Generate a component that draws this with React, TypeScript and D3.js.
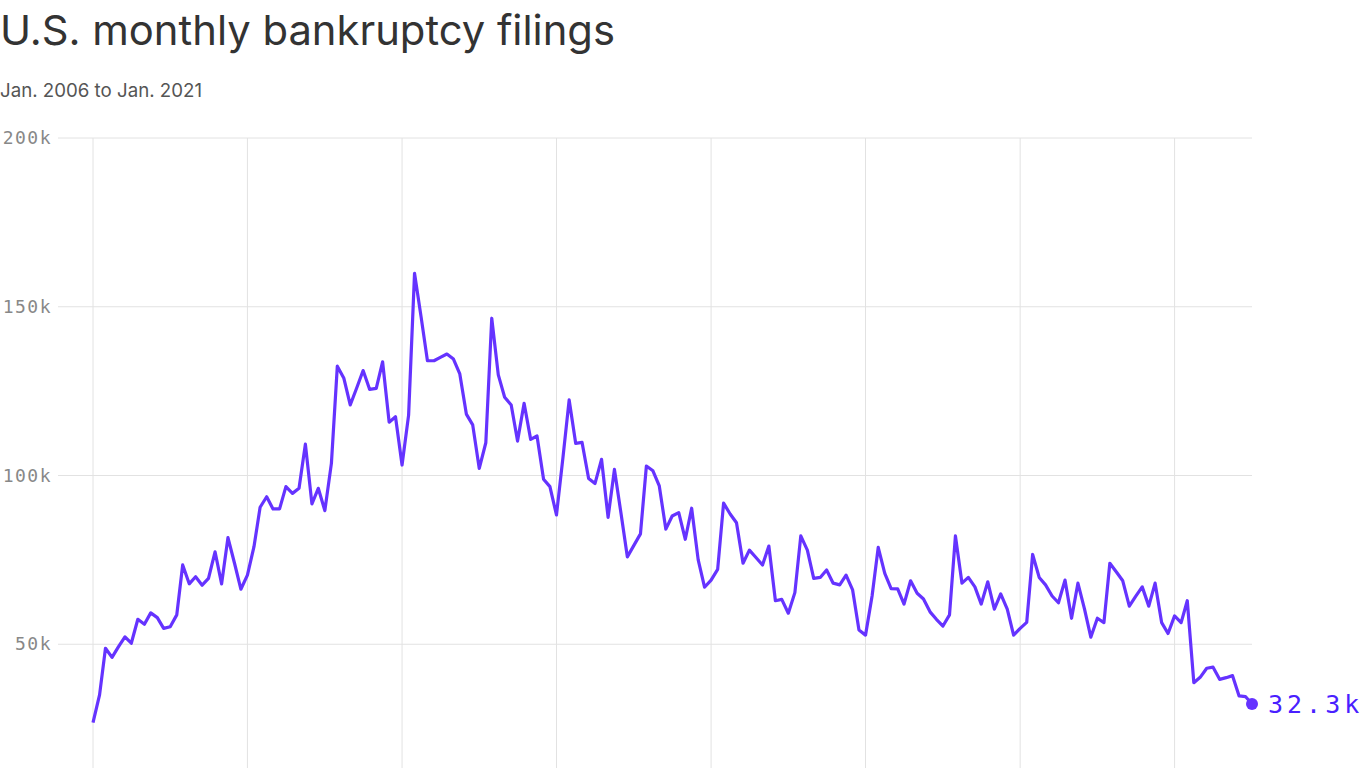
import React, { useEffect, useRef } from "react";
import * as d3 from "d3";

// monthly filings, in thousands, Jan 2006 .. Jan 2021
const filings: number[] = [
  26.8, 35.0, 48.8, 46.1, 49.2, 52.2, 50.3, 57.4, 55.9, 59.3, 57.9, 54.7,
  55.2, 58.7, 73.5, 67.9, 70.0, 67.5, 69.5, 77.4, 67.9, 81.6, 74.0, 66.3,
  70.5, 78.9, 90.6, 93.7, 90.1, 90.1, 96.7, 94.7, 96.2, 109.3, 91.6, 96.2,
  89.6, 103.6, 132.4, 128.8, 120.9, 126.0, 131.1, 125.5, 125.8, 133.7, 115.8, 117.4,
  103.1, 117.9, 159.9, 147.0, 134.0, 134.0, 135.0, 136.0, 134.5, 130.1, 118.2, 115.0,
  102.1, 109.7, 146.6, 129.8, 123.2, 120.9, 110.2, 121.4, 110.7, 111.7, 98.9, 96.7,
  88.3, 105.5, 122.4, 109.5, 109.8, 99.1, 97.6, 104.8, 87.6, 101.8, 88.8, 75.9,
  79.3, 82.7, 102.8, 101.4, 96.9, 84.1, 88.0, 89.0, 81.1, 90.3, 75.0, 66.9,
  69.0, 72.2, 91.8, 88.6, 86.0, 74.0, 77.9, 75.7, 73.5, 79.1, 62.9, 63.3,
  59.2, 65.3, 82.1, 77.9, 69.5, 69.8, 72.0, 68.1, 67.6, 70.5, 66.1, 54.2,
  52.7, 64.3, 78.7, 71.0, 66.5, 66.4, 61.9, 68.8, 65.1, 63.4, 59.6, 57.4,
  55.4, 58.7, 82.1, 68.1, 69.8, 67.0, 61.9, 68.5, 60.4, 64.9, 60.4, 52.7,
  54.7, 56.5, 76.6, 69.8, 67.6, 64.3, 62.3, 69.0, 57.7, 68.1, 60.5, 52.1,
  57.7, 56.4, 74.0, 71.4, 68.8, 61.3, 64.2, 67.0, 61.3, 68.1, 56.4, 53.2,
  58.4, 56.4, 62.9, 38.6, 40.2, 42.9, 43.2, 39.6, 40.1, 40.7, 34.7, 34.5,
  32.3,
];
const yTicks = [50000, 100000, 150000, 200000];
const gridYears = [2006, 2008, 2010, 2012, 2014, 2016, 2018, 2020];

const W = 1366;
const H = 768;
const purple = "#6533ff";

const App: React.FC = () => {
  const svgRef = useRef<SVGSVGElement>(null);

  useEffect(() => {
    if (!svgRef.current) return;
    const svg = d3.select(svgRef.current);
    svg.selectAll("*").remove();

    const data = filings.map((v, i) => ({
      date: new Date(2006, i, 1),
      value: v * 1000,
    }));

    const x = d3
      .scaleTime()
      .domain([new Date(2006, 0, 1), new Date(2021, 0, 1)])
      .range([93, 1252]);
    const y = d3.scaleLinear().domain([0, 200000]).range([813, 138]);

    // title
    svg
      .append("text")
      .attr("x", 0)
      .attr("y", 45)
      .attr("font-family", "Inter, 'Noto Sans', sans-serif")
      .attr("font-size", 41)
      .attr("fill", "#333")
      .attr("textLength", 615)
      .attr("lengthAdjust", "spacingAndGlyphs")
      .text("U.S. monthly bankruptcy filings");

    svg
      .append("text")
      .attr("x", 0)
      .attr("y", 97)
      .attr("font-family", "Inter, 'Noto Sans', sans-serif")
      .attr("font-size", 19)
      .attr("fill", "#555")
      .attr("textLength", 202)
      .attr("lengthAdjust", "spacingAndGlyphs")
      .text("Jan. 2006 to Jan. 2021");

    const grid = svg.append("g");
    grid
      .selectAll("line.h")
      .data(yTicks)
      .join("line")
      .attr("class", "h")
      .attr("x1", 58)
      .attr("x2", 1252)
      .attr("y1", (d) => y(d))
      .attr("y2", (d) => y(d))
      .attr("stroke", "#e2e2e2")
      .attr("stroke-width", 1);

    grid
      .selectAll("line.v")
      .data(gridYears)
      .join("line")
      .attr("class", "v")
      .attr("x1", (d) => x(new Date(d, 0, 1)))
      .attr("x2", (d) => x(new Date(d, 0, 1)))
      .attr("y1", y(200000))
      .attr("y2", H)
      .attr("stroke", "#e2e2e2")
      .attr("stroke-width", 1);

    svg
      .append("g")
      .selectAll("text")
      .data(yTicks)
      .join("text")
      .attr("x", 52)
      .attr("y", (d) => y(d) + 6)
      .attr("text-anchor", "end")
      .attr("font-family", "'DejaVu Sans Mono', monospace")
      .attr("font-size", 18)
      .attr("letter-spacing", 1.5)
      .attr("fill", "#888")
      .text((d) => `${d / 1000}k`);

    const line = d3
      .line<{ date: Date; value: number }>()
      .x((d) => x(d.date))
      .y((d) => y(d.value));

    svg
      .append("path")
      .datum(data)
      .attr("fill", "none")
      .attr("stroke", purple)
      .attr("stroke-width", 3.2)
      .attr("stroke-linejoin", "round")
      .attr("d", line);

    const last = data[data.length - 1];
    svg
      .append("circle")
      .attr("cx", x(last.date))
      .attr("cy", y(last.value))
      .attr("r", 6)
      .attr("fill", purple);

    svg
      .append("text")
      .attr("x", x(last.date) + 16)
      .attr("y", y(last.value) + 9)
      .attr("font-family", "'DejaVu Sans Mono', monospace")
      .attr("font-size", 25)
      .attr("letter-spacing", 4)
      .attr("fill", "#4a1fff")
      .text(`${d3.format(".1f")(last.value / 1000)}k`);
  }, []);

  return (
    <svg
      ref={svgRef}
      width={W}
      height={H}
      style={{ position: "absolute", left: 0, top: 0, background: "#fff" }}
    />
  );
};

export default App;
